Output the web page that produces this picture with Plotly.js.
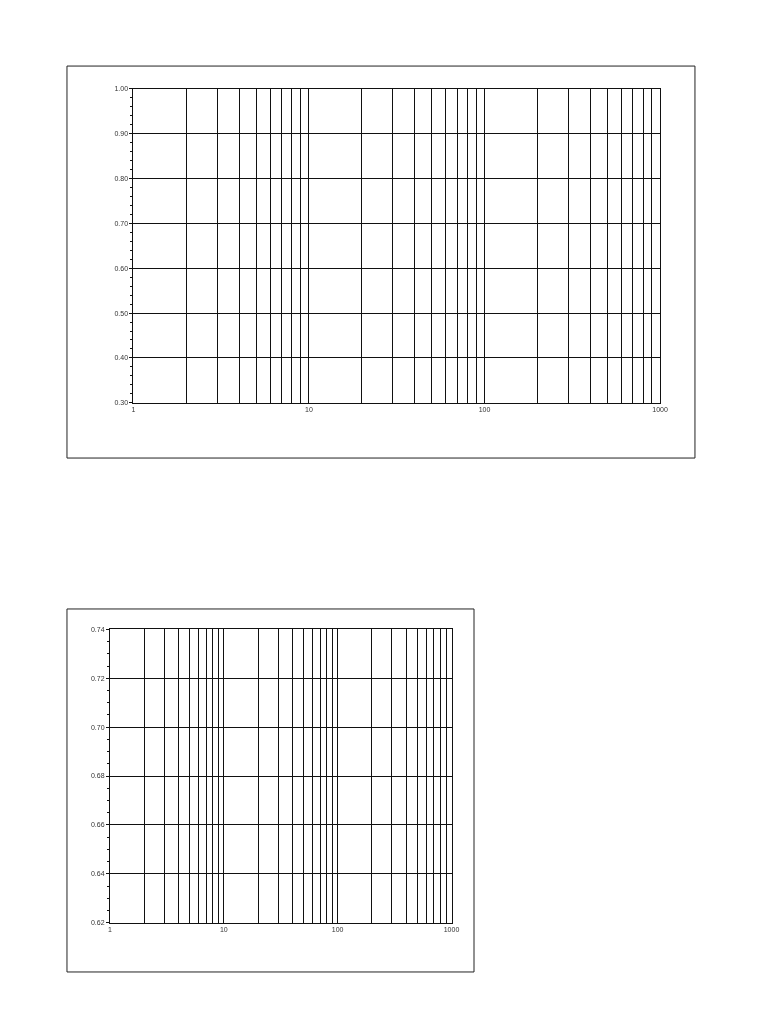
<!DOCTYPE html>
<html>
<head>
<meta charset="utf-8">
<script src="https://cdn.plot.ly/plotly-3.0.1.min.js"></script>
<style>
  body { margin: 0; background: #fff; }
  #chart { width: 768px; height: 1024px; will-change: transform; }
  #chart svg text { -webkit-font-smoothing: antialiased; }
</style>
</head>
<body>
<div id="chart"></div>
<script>
// log grid values shared by both charts
var xGridVals = [1, 2, 3, 4, 5, 6, 7, 8, 9, 10, 20, 30, 40, 50, 60, 70, 80, 90,
                 100, 200, 300, 400, 500, 600, 700, 800, 900, 1000];
var xLabelVals = [1, 10, 100, 1000];

// top chart y axis
var yTopRange = [0.30, 1.00];
var yTopStep = 0.10;
var yTopMinor = 0.02;

// bottom chart y axis
var yBotRange = [0.62, 0.74];
var yBotStep = 0.02;
var yBotMinor = 0.005;

var xTickText = xGridVals.map(function (v) {
    return xLabelVals.indexOf(v) >= 0 ? String(v) : '';
});

function labelFont() {
    return { family: 'Liberation Sans, Arial, sans-serif', size: 7, color: '#333333' };
}

function xAxis(domain, anchor) {
    return {
        type: 'log',
        domain: domain,
        anchor: anchor,
        range: [0, 3],
        tickmode: 'array',
        tickvals: xGridVals,
        ticktext: xTickText,
        ticks: '',
        showgrid: true,
        gridcolor: '#111',
        gridwidth: 1,
        showline: true,
        mirror: true,
        linecolor: '#111',
        linewidth: 1,
        zeroline: false,
        tickfont: labelFont(),
        automargin: false,
        fixedrange: true
    };
}

function yAxis(domain, anchor, range, step, minorStep) {
    return {
        domain: domain,
        anchor: anchor,
        range: range,
        tick0: range[0],
        dtick: step,
        tickformat: '.2f',
        ticks: 'outside',
        ticklen: 3,
        tickcolor: '#111',
        minor: { dtick: minorStep, tick0: range[0], ticks: 'outside', ticklen: 2, tickcolor: '#111', showgrid: false },
        showgrid: true,
        gridcolor: '#111',
        gridwidth: 1,
        showline: true,
        mirror: true,
        linecolor: '#111',
        linewidth: 1,
        zeroline: false,
        tickfont: labelFont(),
        automargin: false,
        fixedrange: true
    };
}

var data = [
    { x: [], y: [], type: 'scatter', mode: 'lines', xaxis: 'x', yaxis: 'y', showlegend: false },
    { x: [], y: [], type: 'scatter', mode: 'lines', xaxis: 'x2', yaxis: 'y2', showlegend: false }
];

var layout = {
    width: 768,
    height: 1024,
    margin: { l: 0, r: 0, t: 0, b: 0 },
    paper_bgcolor: '#fff',
    plot_bgcolor: 'rgba(0,0,0,0)',
    showlegend: false,
    font: labelFont(),
    xaxis: xAxis([0.1738, 0.8594], 'y'),
    yaxis: yAxis([0.6067, 0.9131], 'x', yTopRange, yTopStep, yTopMinor),
    xaxis2: xAxis([0.1432, 0.5879], 'y2'),
    yaxis2: yAxis([0.0989, 0.3854], 'x2', yBotRange, yBotStep, yBotMinor),
    shapes: [
        { type: 'rect', xref: 'paper', yref: 'paper', x0: 0.0872, x1: 0.9049, y0: 0.5527, y1: 0.9355,
          line: { color: '#222', width: 1 } },
        { type: 'rect', xref: 'paper', yref: 'paper', x0: 0.0872, x1: 0.6172, y0: 0.0508, y1: 0.4053,
          line: { color: '#222', width: 1 } }
    ]
};

Plotly.newPlot('chart', data, layout, { staticPlot: true, displayModeBar: false });
</script>
</body>
</html>
